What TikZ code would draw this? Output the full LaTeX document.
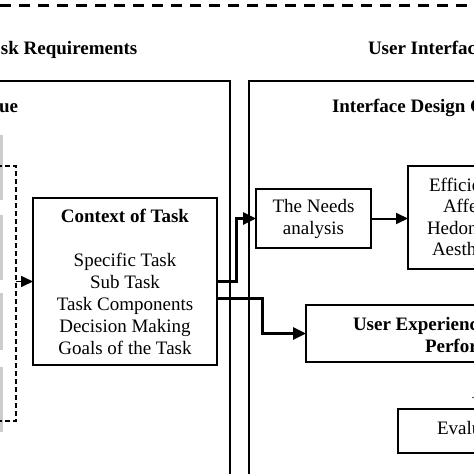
\documentclass[tikz,border=0pt]{standalone}
\usepackage{fontspec}
\setmainfont{Liberation Serif}
\usetikzlibrary{arrows.meta}
\begin{document}
\begin{tikzpicture}[x=1pt,y=-1pt,
  every node/.style={font=\fontsize{19}{22}\selectfont, inner sep=0pt, outer sep=0pt},
  bold/.style={font=\fontsize{19}{22}\selectfont\bfseries},
  box/.style={draw, line width=1.5pt, rectangle},
  panel/.style={line width=1.5pt},
  thickcon/.style={line width=3pt, -{Triangle[length=13pt 0 0,width=12pt 0 0]}},
  thincon/.style={line width=2pt, -{Triangle[length=12pt 0 0,width=11pt 0 0]}},
  dashcon/.style={line width=1.7pt, dash pattern=on 5pt off 3pt, -{Triangle[length=12pt 0 0,width=11pt 0 0]}},
  bracket/.style={line width=1.7pt, dash pattern=on 5pt off 3pt},
  graystrip/.style={fill=black!20}
]
\useasboundingbox (0,0) rectangle (474,474);
\clip (0,0) rectangle (474,474);

% top dashed border
\coordinate (tl) at (0,5);
\coordinate (tr) at (474,5);
\draw[line width=3pt, dash pattern=on 11pt off 8pt] (tl) -- (tr);

% headings
\node[bold, anchor=base west] (h1) at (1,54) {sk Requirements};
\node[bold, anchor=base west] (h2) at (368,54) {User Interfac};

% panels
\draw[panel] (-5,81) -- (230,81) -- (230,480);
\draw[panel] (480,81) -- (249,81) -- (249,480);
\node[bold, anchor=base west] (p1) at (-1,112) {ue};
\node[bold, anchor=base west] (p2) at (332,112) {Interface Design C};

% gray strips at left edge
\fill[graystrip] (-5,135) rectangle (2.5,200);
\fill[graystrip] (-5,215) rectangle (2.5,280);
\fill[graystrip] (-5,293) rectangle (2.5,350);
\fill[graystrip] (-5,367) rectangle (2.5,432);

% Context of task
\node[box, minimum width=184pt, minimum height=167pt, align=center] (ctx) at (125,281.5)
  {\textbf{Context of Task}\\[22pt]Specific Task\\Sub Task\\Task Components\\Decision Making\\Goals of the Task};

% dashed bracket
\coordinate (bt) at (-3,166);
\coordinate (btc) at (16,166);
\coordinate (bbc) at (16,421);
\coordinate (bb) at (-3,421);
\coordinate (bm) at (16,281.5);
\draw[bracket] (bt) -- (btc) -- (bbc) -- (bb);
\draw[dashcon] (bm) -- (ctx.west);

% Needs analysis
\node[box, minimum width=115pt, minimum height=59pt, align=center] (needs) at (313.5,218.5)
  {The Needs\\analysis};

% Efficiency box
\node[box, minimum width=130pt, minimum height=103pt] (eff) at (473,217.5) {};
\node[anchor=base west] (e1) at (429,191) {Efficie};
\node[anchor=base west] (e2) at (443,212.5) {Affe};
\node[anchor=base west] (e3) at (427,234) {Hedon};
\node[anchor=base west] (e4) at (432,255.5) {Aesth};

% User experience box
\node[box, minimum width=200pt, minimum height=57pt] (ux) at (406,333.5) {};
\node[bold, anchor=base west] (u1) at (353,330) {User Experienc};
\node[bold, anchor=base west] (u2) at (425,352) {Perfor};

% Evaluation box
\node[box, minimum width=150pt, minimum height=44pt] (ev) at (473,431) {};
\node[anchor=base west] (v1) at (437,434) {Evalu};

% small fragment
\coordinate (f1) at (471.5,397.5);
\coordinate (f2) at (476,397.5);
\draw[line width=1.5pt, black!70] (f1) -- (f2);

% connectors
\draw[thickcon] (ctx.east) -- ++(19,0) |- (needs.west);
\draw[thickcon] ([yshift=-16.5pt]ctx.east) -- ++(45,0) |- (ux.west);
\draw[thincon] (needs.east) -- (needs.east -| eff.west);
\end{tikzpicture}
\end{document}
